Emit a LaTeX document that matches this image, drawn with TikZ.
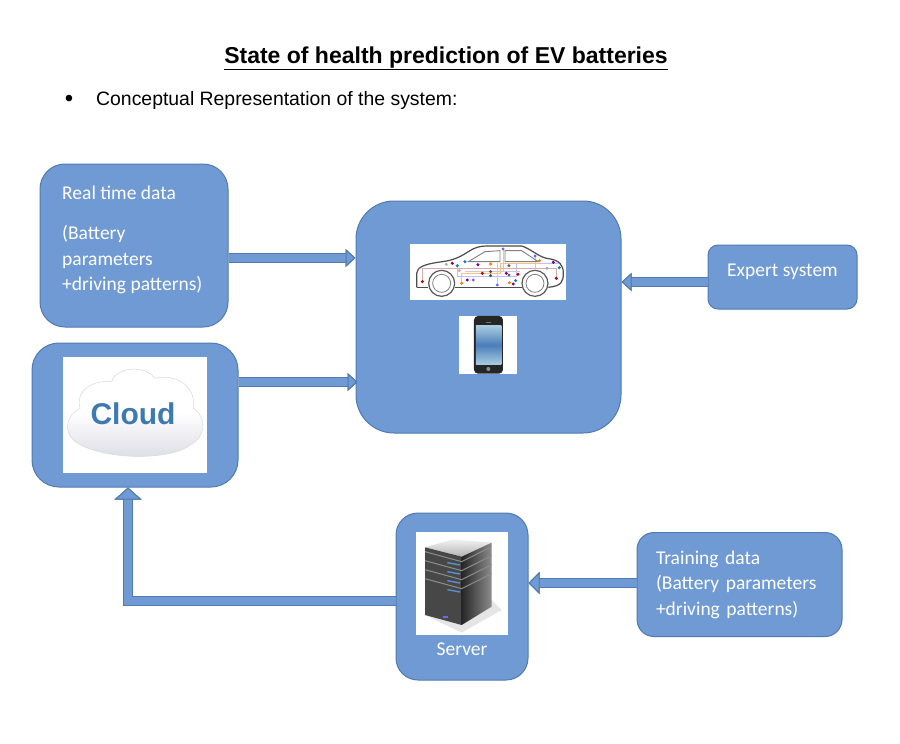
\documentclass[tikz,border=0pt]{standalone}
\usepackage{fontspec}
\setmainfont{Liberation Sans}
\newfontfamily\boxfont{Carlito}
\usetikzlibrary{arrows.meta, positioning}
\definecolor{fillblue}{RGB}{112, 154, 211}
\definecolor{edgeblue}{RGB}{80, 122, 176}
\definecolor{cloudblue}{RGB}{62, 122, 178}
\definecolor{screenpale}{RGB}{170, 205, 225}
\definecolor{screenmid}{RGB}{75, 125, 185}
\tikzset{
  panel/.style={draw=edgeblue, fill=fillblue, line width=1pt},
  picbox/.style={fill=white, inner sep=0pt},
  boxtext/.style={text=white, align=left, inner sep=0pt, font=\boxfont\fontsize{19.5}{25.5}\selectfont},
  flowarrow/.style 2 args={preaction={draw=edgeblue, line width=10pt}, draw=fillblue, line width=8pt,
    -{Triangle[length=#1, width=#2, color=edgeblue, fill=fillblue, line width=1pt]}},
  wire/.style={line width=0.5pt}
}
\begin{document}
\begin{tikzpicture}[x=1pt, y=-1pt]
    \useasboundingbox (0,0) rectangle (900,744);
    \fill[white] (0,0) rectangle (900,744);

    % Draw the heading
    \node[font=\bfseries\fontsize{23}{27}\selectfont] (title) at (446,58.5) {\underline{State of health prediction of EV batteries}};
    \node[font=\fontsize{24}{28}\selectfont] (bullet) at (69,100.5) {•};
    \node[font=\fontsize{19.4}{23}\selectfont, anchor=west, inner sep=0pt] (subtitle) at (96,100) {Conceptual Representation of the system:};

    % Draw the panels
    \node[panel, rounded corners=25pt, minimum width=188pt, minimum height=163pt] (realtime) at (134,245.5) {};
    \node[panel, rounded corners=27pt, minimum width=206pt, minimum height=144pt] (cloudbox) at (135,415) {};
    \node[panel, rounded corners=38pt, minimum width=265pt, minimum height=232pt] (hub) at (488.5,317) {};
    \node[panel, rounded corners=10pt, minimum width=149pt, minimum height=64pt] (expert) at (782.5,277) {};
    \node[panel, rounded corners=22pt, minimum width=132pt, minimum height=167pt] (server) at (462,596.5) {};
    \node[panel, rounded corners=17pt, minimum width=205pt, minimum height=104pt, boxtext, text width=167pt] (training) at (739.5,584.5)
        {Training data\\(Battery parameters\\+driving patterns)};

    % Text of the panels
    \node[boxtext, anchor=north west] (realtimetext) at (62,185.5) {Real time data\\[15pt](Battery\\parameters\\+driving patterns)};
    \node[boxtext] (experttext) at (782.5,272) {Expert system};

    % Draw the flows
    \draw[flowarrow={10pt}{18pt}] ([yshift=-12.5pt]realtime.east) -- ([yshift=59pt]hub.west);
    \draw[flowarrow={10pt}{18pt}] ([yshift=33pt]cloudbox.east) -- ([xshift=2pt, yshift=-65pt]hub.west);
    \draw[flowarrow={10pt}{18pt}] ([yshift=-5pt]expert.west) -- ([yshift=35pt]hub.east);
    \draw[flowarrow={11pt}{22pt}] ([yshift=1.5pt]training.west) -- ([yshift=13.5pt]server.east);
    \draw[flowarrow={12pt}{27pt}] ([yshift=-4.5pt]server.west) -| ([xshift=-7pt]cloudbox.south);

    % Picture backgrounds
    \node[picbox, minimum width=156pt, minimum height=56pt] (carpic) at (488,272) {};
    \node[picbox, minimum width=58pt, minimum height=58pt] (phonepic) at (488,345) {};
    \node[picbox, minimum width=144pt, minimum height=116pt] (cloudpic) at (135,415) {};
    \node[picbox, minimum width=92pt, minimum height=103pt] (serverpic) at (462,583.5) {};
    \node[boxtext, below=7pt of serverpic] (servertext) {Server};

    % Draw the car
    \begin{scope}[shift={(400,230)}, x=0.3333pt, y=-0.3333pt]
        \draw[wire, pink!70!gray] (67,155) -- (67,115) -- (470,115) -- (470,145);
        \draw[wire, blue!25] (172,107) -- (172,140) -- (350,140) -- (350,100) -- (478,100);
        \draw[wire, orange!50] (185,160) -- (185,130) -- (300,130) -- (300,100) -- (419,100);
        \draw[wire, gray!40] (195,125) -- (360,125) (292,165) -- (292,100) (309,57) -- (309,125) (405,78) -- (405,115);
        \draw[line width=1.2pt, black!70] (50,172) -- (50,130) .. controls (52,112) and (70,103) .. (120,96)
            .. controls (150,92) and (170,88) .. (205,65) .. controls (225,52) and (240,48) .. (260,48)
            -- (365,48) .. controls (390,55) and (415,80) .. (440,85) .. controls (480,90) and (490,105) .. (490,130)
            .. controls (490,155) and (485,168) .. (445,172);
        \draw[line width=1.2pt, black!70] (50,172) -- (85,172) (165,172) -- (365,172);
        \draw[line width=0.9pt, black!50] (205,95) -- (255,65) -- (300,62) -- (300,95) -- cycle;
        \draw[line width=0.9pt, black!50] (315,95) -- (315,62) -- (365,62) -- (415,95) -- cycle;
        \foreach \cx in {125,405} {
            \fill[white] (\cx,160) circle (40);
            \draw[line width=1.2pt, black!65] (\cx,160) circle (39);
            \draw[line width=0.8pt, black!50] (\cx,160) circle (27);
        }
        \foreach \px/\py/\pc in {67/155/red!75!black, 157/100/violet, 172/107/cyan!60!blue, 195/95/cyan!60!blue, 234/104/violet,
            272/102/orange, 247/130/red!75!black, 139/103/gray!60, 185/160/orange, 202/150/violet, 220/150/blue!60,
            292/165/blue!60, 328/158/orange, 340/162/violet, 347/152/cyan!60!blue, 354/133/red!75!black, 319/130/violet,
            309/57/blue!60, 405/78/blue!60, 419/92/orange, 460/97/violet, 478/113/cyan!60!blue, 469/145/red!75!black,
            441/115/gray!70, 178/122/gray!60, 272/125/black!70, 272/137/black!70, 327/107/black!60, 327/135/black!60} {
            \fill[\pc] (\px,\py) circle (5);
        }
    \end{scope}

    % Draw the phone
    \begin{scope}[shift={(400,230)}, x=0.3333pt, y=-0.3333pt]
        \fill[black!85, rounded corners=4pt] (222,258) rectangle (309,431);
        \shade[top color=screenpale, bottom color=screenpale, middle color=screenmid] (228,286) rectangle (304,404);
        \fill[black!55] (258,276) rectangle (274,278);
        \fill[black!45] (265,417) circle (6);
    \end{scope}

    % Draw the cloud
    \begin{scope}[shift={(30,340)}, x=0.3333pt, y=-0.3333pt]
        \shade[draw=black!15, line width=0.5pt, top color=white, bottom color=blue!15!gray!25, middle color=white]
            (130,300) .. controls (100,270) and (110,225) .. (150,205) .. controls (135,150) and (190,120) .. (245,125)
            .. controls (255,85) and (340,70) .. (375,115) .. controls (440,100) and (500,140) .. (490,205)
            .. controls (530,230) and (530,290) .. (480,315) .. controls (420,365) and (200,360) .. (130,300) -- cycle;
    \end{scope}
    \node[text=cloudblue, font=\bfseries\fontsize{30}{34}\selectfont, inner sep=0pt] (cloudtext) at (133,414) {Cloud};

    % Draw the server
    \begin{scope}[shift={(390,510)}, x=0.3333pt, y=-0.3333pt]
        \fill[black!10] (105,315) -- (215,368) -- (335,300) -- (305,270) -- cycle;
        \shade[top color=black!5, bottom color=black!30] (105,112) -- (190,88) -- (305,98) -- (215,140) -- cycle;
        \fill[black!72] (105,112) -- (215,140) -- (215,345) -- (105,315) -- cycle;
        \shade[left color=black!85, right color=black!45] (215,140) -- (305,98) -- (305,290) -- (215,345) -- cycle;
        \foreach \sy in {0,27,54,81} {
            \draw[line width=1pt, black!45] (105,\sy+125) -- (215,\sy+155) -- (305,\sy+110);
            \draw[line width=1.4pt, cyan!55!blue!70] (172,\sy+158) -- (210,\sy+165);
        }
        \fill[blue!60] (160,318) rectangle (175,324);
    \end{scope}
\end{tikzpicture}
\end{document}
